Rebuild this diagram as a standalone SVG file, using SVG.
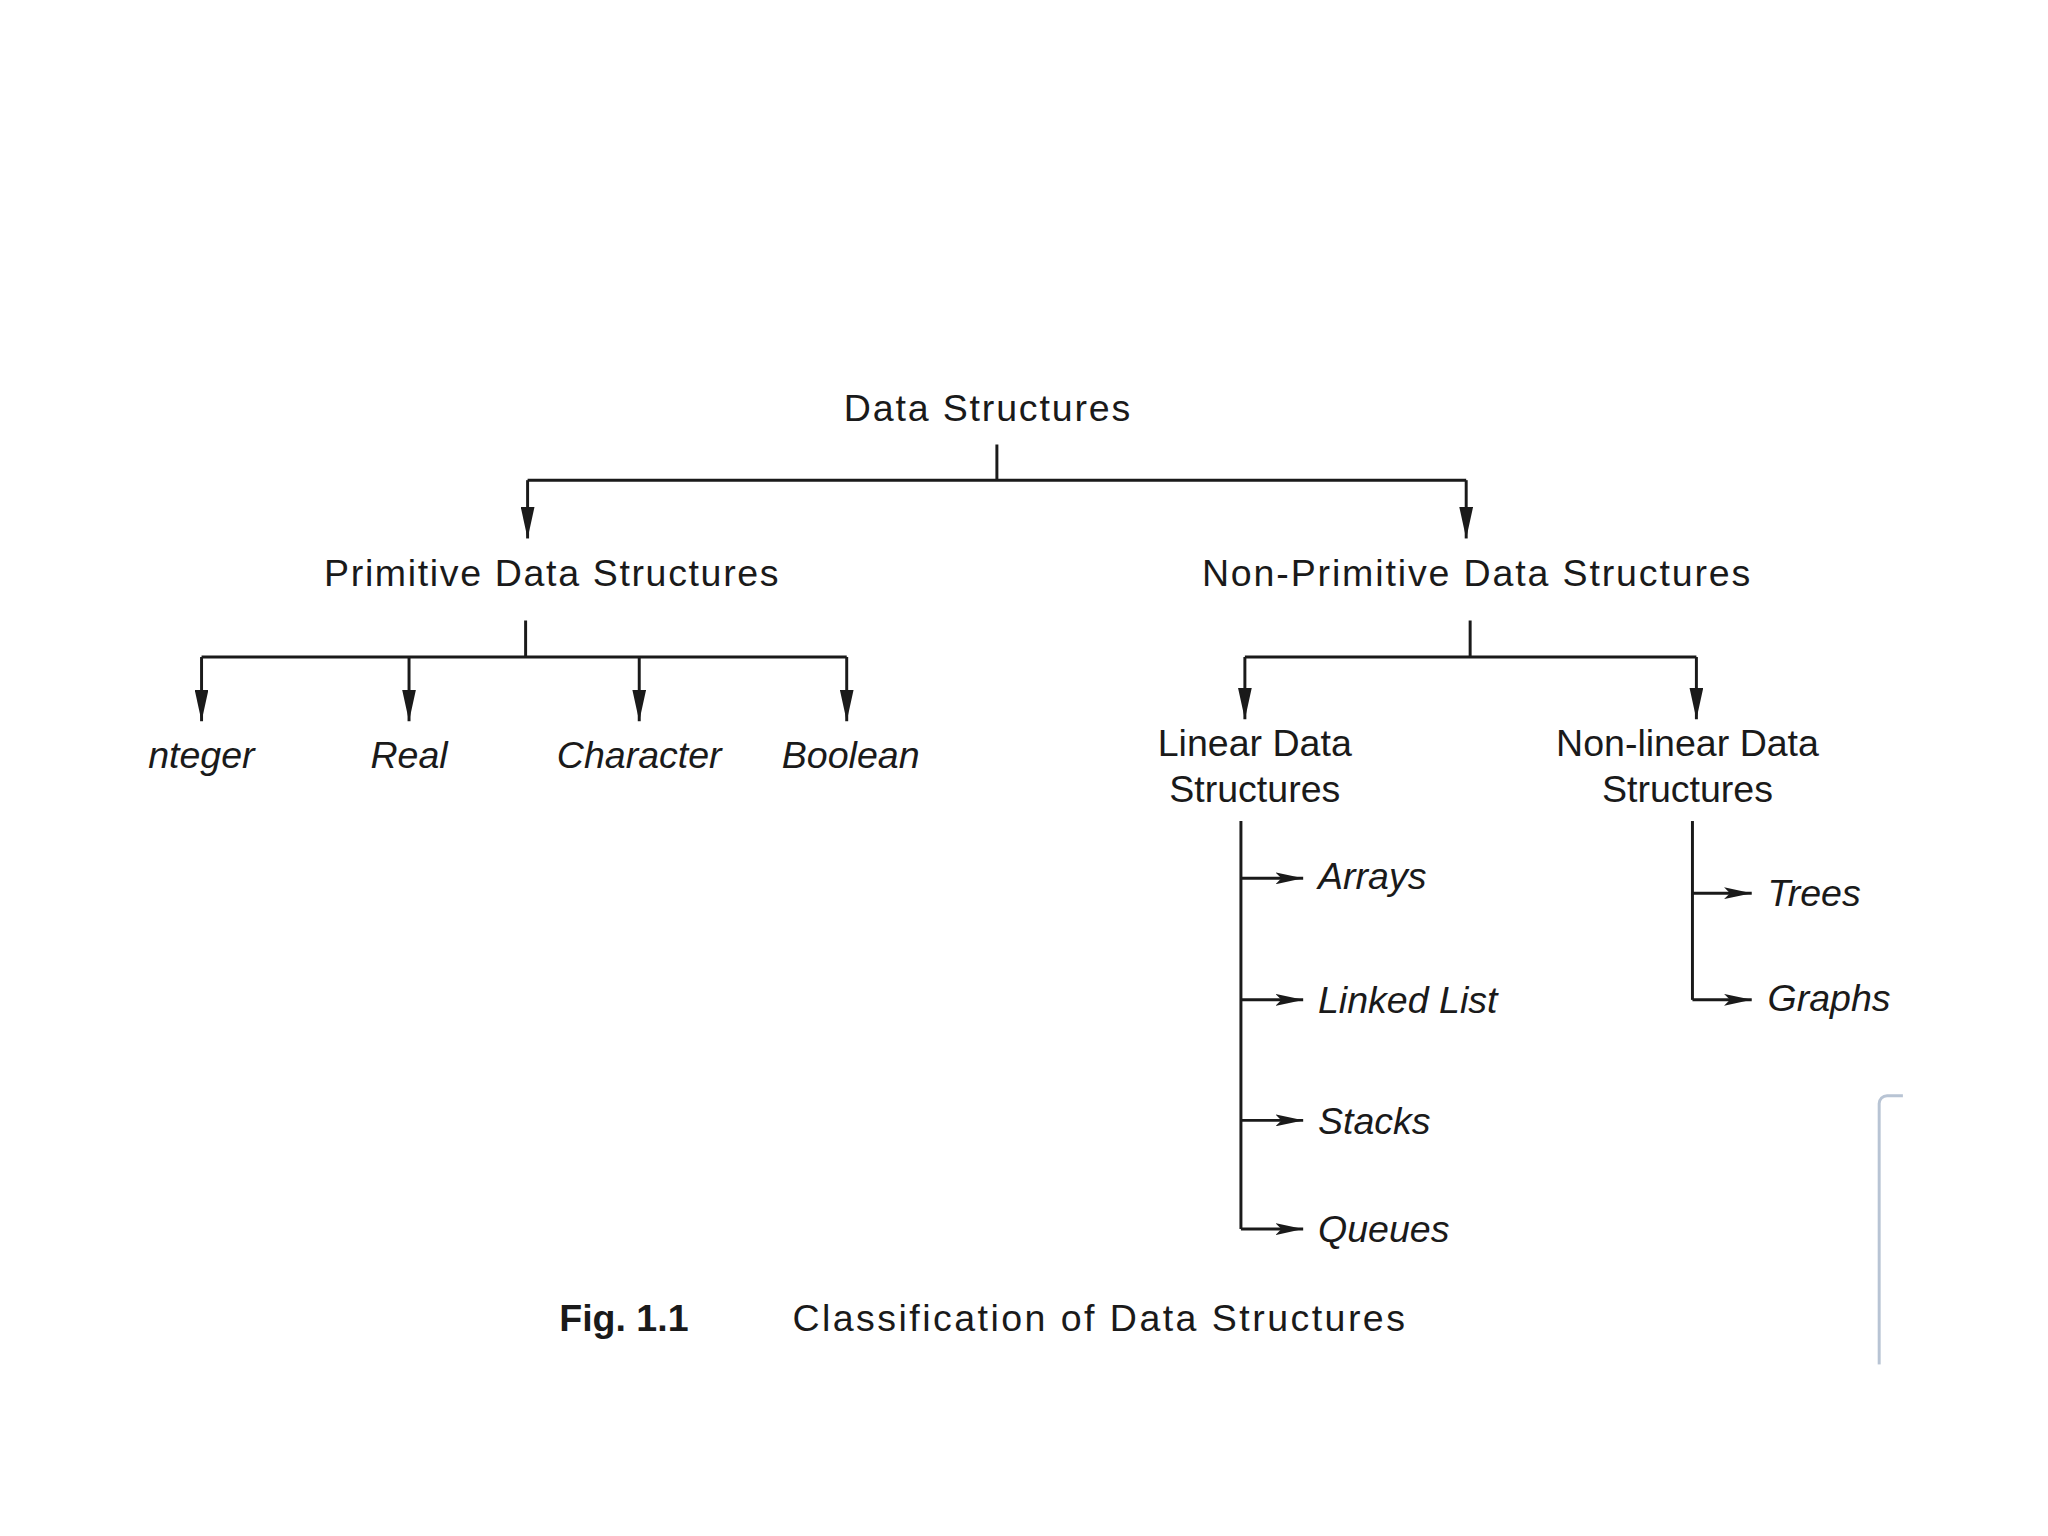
<svg xmlns="http://www.w3.org/2000/svg" width="2048" height="1536" viewBox="0 0 2048 1536">
<style>
text{font-family:"Liberation Sans",Arial,sans-serif;fill:#1a1a1a}
.n{font-size:38px}
.i{font-size:38px;font-style:italic}
.c{stroke:#1a1a1a;stroke-width:3;fill:none}
</style>
<defs>
<marker id="a" viewBox="0 0 28 12" refX="28" refY="6" markerWidth="28" markerHeight="12" markerUnits="userSpaceOnUse" orient="auto"><path d="M0,0 L28,6 L0,12 L6,6 z" fill="#1a1a1a"/></marker>
<marker id="d" viewBox="0 0 32 14" refX="32" refY="7" markerWidth="32" markerHeight="14" markerUnits="userSpaceOnUse" orient="auto"><path d="M0,0 L32,7 L0,14 z" fill="#1a1a1a"/></marker>
</defs>
<rect width="2048" height="1536" fill="#fff"/>
<g transform="scale(0.988)">
<g id="connectors" class="c">
<path d="M1009,450V486M534,486H1484"/>
<path d="M534,486V545" marker-end="url(#d)"/>
<path d="M1484,486V545" marker-end="url(#d)"/>
<path d="M532,628V665M204,665H857"/>
<path d="M204,665V730" marker-end="url(#d)"/>
<path d="M414,665V730" marker-end="url(#d)"/>
<path d="M647,665V730" marker-end="url(#d)"/>
<path d="M857,665V730" marker-end="url(#d)"/>
<path d="M1488,628V665M1260,665H1717"/>
<path d="M1260,665V728" marker-end="url(#d)"/>
<path d="M1717,665V728" marker-end="url(#d)"/>
<path d="M1256,831V1244"/>
<path d="M1256,889H1319" marker-end="url(#a)"/>
<path d="M1256,1012H1319" marker-end="url(#a)"/>
<path d="M1256,1134H1319" marker-end="url(#a)"/>
<path d="M1256,1244H1319" marker-end="url(#a)"/>
<path d="M1713,831V1012"/>
<path d="M1713,904H1773" marker-end="url(#a)"/>
<path d="M1713,1012H1773" marker-end="url(#a)"/>
</g>
<g id="root"><text class="n" x="999" y="426" text-anchor="middle" textLength="290">Data Structures</text></g>
<g id="primitive"><text class="n" x="558" y="593" text-anchor="middle" textLength="460">Primitive Data Structures</text></g>
<g id="nonprimitive"><text class="n" x="1494" y="593" text-anchor="middle" textLength="555">Non-Primitive Data Structures</text></g>
<g id="integer"><text class="i" x="150" y="777">nteger</text></g>
<g id="real"><text class="i" x="414" y="777" text-anchor="middle">Real</text></g>
<g id="character"><text class="i" x="647" y="777" text-anchor="middle">Character</text></g>
<g id="boolean"><text class="i" x="861" y="777" text-anchor="middle">Boolean</text></g>
<g id="linear"><text class="n" x="1270" y="765" text-anchor="middle">Linear Data</text><text class="n" x="1270" y="812" text-anchor="middle">Structures</text></g>
<g id="nonlinear"><text class="n" x="1708" y="765" text-anchor="middle">Non-linear Data</text><text class="n" x="1708" y="812" text-anchor="middle">Structures</text></g>
<g id="arrays"><text class="i" x="1334" y="900">Arrays</text></g>
<g id="linkedlist"><text class="i" x="1334" y="1025">Linked List</text></g>
<g id="stacks"><text class="i" x="1334" y="1148">Stacks</text></g>
<g id="queues"><text class="i" x="1334" y="1257">Queues</text></g>
<g id="trees"><text class="i" x="1789" y="917">Trees</text></g>
<g id="graphs"><text class="i" x="1789" y="1023">Graphs</text></g>
<g id="caption"><text class="n" x="566" y="1347" font-weight="bold">Fig. 1.1</text><text class="n" x="802" y="1347" textLength="620">Classification of Data Structures</text></g>
<rect x="1902" y="1109" width="40" height="320" rx="8" fill="#fff" stroke="#b8c4d4" stroke-width="3"/>
<rect x="1926" y="1100" width="150" height="340" fill="#fff"/>
<rect x="1890" y="1381" width="60" height="60" fill="#fff"/>
</g>
</svg>
